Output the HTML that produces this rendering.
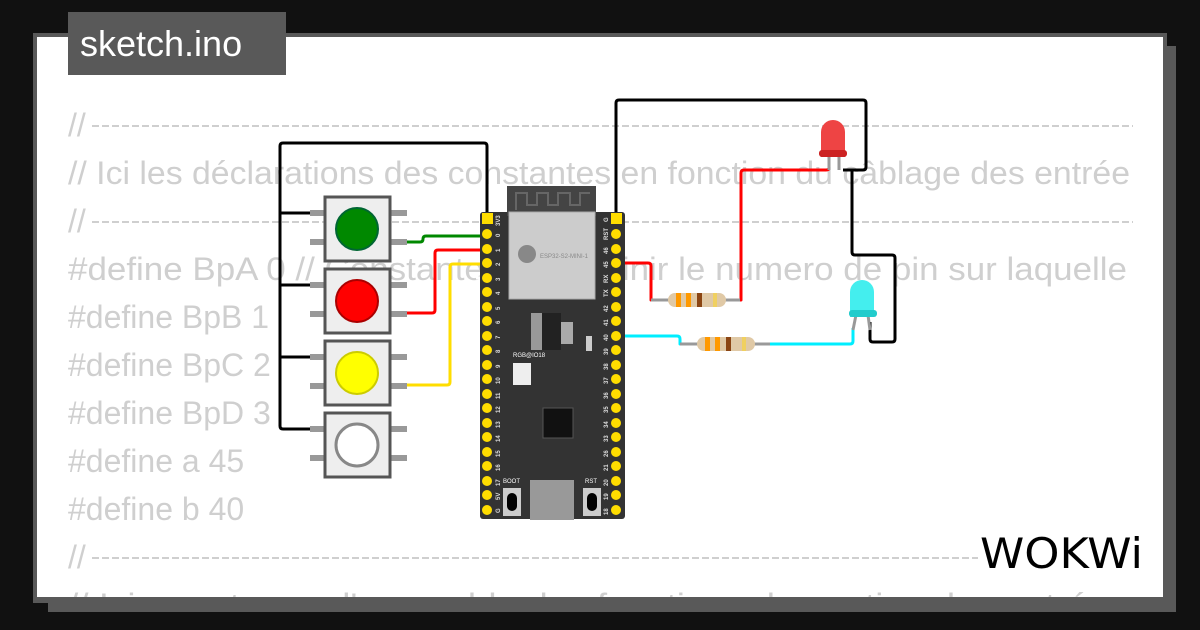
<!DOCTYPE html>
<html><head><meta charset="utf-8"><style>
html,body{margin:0;padding:0;background:#111;}
svg{display:block}
</style></head><body>
<svg width="1200" height="630" viewBox="0 0 1200 630" xmlns="http://www.w3.org/2000/svg" font-family="Liberation Sans, sans-serif">
<rect width="1200" height="630" fill="#111"/>
<rect x="48" y="46" width="1128" height="566" fill="#595959"/>
<rect x="33" y="33" width="1134" height="570" fill="#595959"/>
<rect x="37" y="37" width="1126" height="560" fill="#fff"/>
<clipPath id="c"><rect x="37" y="37" width="1126" height="560"/></clipPath>
<g clip-path="url(#c)" fill="#cfcfcf" font-size="32">
<text x="68" y="136">//</text><line x1="92" y1="126" x2="1133" y2="126" stroke="#cfcfcf" stroke-width="2" stroke-dasharray="7,3"/>
<text x="68" y="184" textLength="1062" lengthAdjust="spacingAndGlyphs">// Ici les déclarations des constantes en fonction du câblage des entrée</text>
<text x="68" y="232">//</text><line x1="92" y1="222" x2="1133" y2="222" stroke="#cfcfcf" stroke-width="2" stroke-dasharray="7,3"/>
<text x="68" y="280" textLength="1059" lengthAdjust="spacingAndGlyphs">#define BpA 0 // Constante pour définir le numero de pin sur laquelle</text>
<text x="68" y="328">#define BpB 1</text>
<text x="68" y="376">#define BpC 2</text>
<text x="68" y="424">#define BpD 3</text>
<text x="68" y="472">#define a 45</text>
<text x="68" y="520">#define b 40</text>
<text x="68" y="568">//</text><line x1="92" y1="558" x2="1133" y2="558" stroke="#cfcfcf" stroke-width="2" stroke-dasharray="7,3"/>
<text x="68" y="616" textLength="1059" lengthAdjust="spacingAndGlyphs">// Ici on retrouve l'ensemble des fonctions de gestion des entrées</text>
</g>
<rect x="68" y="12" width="218" height="63" fill="#595959"/>
<text x="80" y="56" font-size="36" fill="#fff">sketch.ino</text>

<g fill="none" stroke-width="3" stroke-linejoin="round">
<path d="M487 218 V146 Q487 143 484 143 H283 Q280 143 280 146 V426 Q280 429 283 429 H312 M280 213 H312 M280 285 H312 M280 357 H312" stroke="#000"/>
<path d="M407 242 H420 Q423 242 423 239 Q423 236 426 236 H487" stroke="#080"/>
<path d="M407 313 H432 Q435 313 435 310 V253 Q435 250 438 250 H487" stroke="#f00"/>
<path d="M407 385 H447 Q450 385 450 382 V267 Q450 264 453 264 H487" stroke="#fd0"/>
<path d="M476 278 H487" stroke="#fff"/>
<path d="M616 218 V103 Q616 100 619 100 H863 Q866 100 866 103 V167 Q866 170 863 170 H843" stroke="#000"/>
<path d="M829 168 Q829 170 826 170 H744 Q741 170 741 173 V300 H725" stroke="#f00"/>
<path d="M616 263 H648 Q651 263 651 266 V300 H668" stroke="#f00"/>
<path d="M852 170 V252 Q852 255 855 255 H892 Q895 255 895 258 V339 Q895 342 892 342 H873 Q870 342 870 339 V322" stroke="#000"/>
<path d="M616 336 H677 Q680 336 680 339 V344 H697 M755 344 H850 Q853 344 853 341 V328" stroke="#0ef"/>
</g>
<g>
<line x1="651" y1="300" x2="740" y2="300" stroke="#999" stroke-width="3"/>
<rect x="668" y="293" width="58" height="14" rx="7" fill="#e0c9a6"/>
<rect x="676" y="293" width="5" height="14" fill="#f90"/><rect x="686" y="293" width="5" height="14" fill="#f90"/><rect x="697" y="293" width="5" height="14" fill="#8b4513"/><rect x="713" y="293" width="4" height="14" fill="#f0d060"/>
<line x1="680" y1="344" x2="770" y2="344" stroke="#999" stroke-width="3"/>
<rect x="697" y="337" width="58" height="14" rx="7" fill="#e0c9a6"/>
<rect x="705" y="337" width="5" height="14" fill="#f90"/><rect x="715" y="337" width="5" height="14" fill="#f90"/><rect x="726" y="337" width="5" height="14" fill="#8b4513"/><rect x="742" y="337" width="4" height="14" fill="#f0d060"/>
</g>
<g>
<line x1="829" y1="155" x2="829" y2="170" stroke="#999" stroke-width="3"/>
<line x1="839" y1="155" x2="839" y2="170" stroke="#999" stroke-width="3"/>
<path d="M821 157 V132 A12 12 0 0 1 845 132 V157 Z" fill="#e44"/>
<rect x="819" y="150" width="28" height="7" rx="3" fill="#c22"/>
<line x1="856" y1="315" x2="853" y2="330" stroke="#999" stroke-width="3"/>
<line x1="868" y1="315" x2="870" y2="330" stroke="#999" stroke-width="3"/>
<path d="M850 317 V292 A12 12 0 0 1 874 292 V317 Z" fill="#4ee"/>
<rect x="849" y="310" width="28" height="7" rx="3" fill="#2cc"/>
</g>
<g>
<g>
<rect x="310" y="210" width="15" height="6" fill="#999"/><rect x="310" y="239" width="15" height="6" fill="#999"/><rect x="391" y="210" width="16" height="6" fill="#999"/><rect x="391" y="239" width="16" height="6" fill="#999"/>
<rect x="325" y="197" width="65" height="64" fill="#eee" stroke="#555" stroke-width="3"/>
<circle cx="357" cy="229" r="21" fill="#080" stroke="#063" stroke-width="2"/>
</g>
<g transform="translate(0,72)">
<rect x="310" y="210" width="15" height="6" fill="#999"/><rect x="310" y="239" width="15" height="6" fill="#999"/><rect x="391" y="210" width="16" height="6" fill="#999"/><rect x="391" y="239" width="16" height="6" fill="#999"/>
<rect x="325" y="197" width="65" height="64" fill="#eee" stroke="#555" stroke-width="3"/>
<circle cx="357" cy="229" r="21" fill="#f00" stroke="#a00" stroke-width="2"/>
</g>
<g transform="translate(0,144)">
<rect x="310" y="210" width="15" height="6" fill="#999"/><rect x="310" y="239" width="15" height="6" fill="#999"/><rect x="391" y="210" width="16" height="6" fill="#999"/><rect x="391" y="239" width="16" height="6" fill="#999"/>
<rect x="325" y="197" width="65" height="64" fill="#eee" stroke="#555" stroke-width="3"/>
<circle cx="357" cy="229" r="21" fill="#ff0" stroke="#cc0" stroke-width="2"/>
</g>
<g transform="translate(0,216)">
<rect x="310" y="210" width="15" height="6" fill="#999"/><rect x="310" y="239" width="15" height="6" fill="#999"/><rect x="391" y="210" width="16" height="6" fill="#999"/><rect x="391" y="239" width="16" height="6" fill="#999"/>
<rect x="325" y="197" width="65" height="64" fill="#eee" stroke="#555" stroke-width="3"/>
<circle cx="357" cy="229" r="21" fill="#fff" stroke="#888" stroke-width="3"/>
</g>
</g>
<rect x="480" y="212" width="145" height="307" rx="3" fill="#333"/>
<rect x="507" y="186" width="89" height="30" fill="#444"/>
<path d="M516 210 V193 H527 V205 H537 V193 H548 V205 H558 V193 H570 V205 H580 V193 H590" fill="none" stroke="#666" stroke-width="2"/>
<rect x="509" y="212" width="86" height="87" fill="#ccc" stroke="#aaa"/>
<circle cx="527" cy="254" r="9" fill="#888"/>
<text x="540" y="258" font-size="6" fill="#888">ESP32-S2-MINI-1</text>
<rect x="531" y="313" width="30" height="37" fill="#222"/>
<rect x="531" y="313" width="11" height="37" fill="#999"/>
<rect x="561" y="322" width="12" height="22" fill="#aaa"/>
<rect x="586" y="336" width="6" height="15" fill="#ccc"/>
<text x="513" y="357" font-size="6" fill="#fff">RGB@IO18</text>
<rect x="513" y="363" width="18" height="22" fill="#eee"/>
<rect x="543" y="408" width="30" height="30" fill="#111" stroke="#555"/>
<rect x="530" y="480" width="44" height="40" fill="#999"/>
<rect x="503" y="488" width="18" height="28" fill="#ccc"/><rect x="507" y="493" width="10" height="18" rx="5" fill="#000"/>
<rect x="583" y="488" width="18" height="28" fill="#ccc"/><rect x="587" y="493" width="10" height="18" rx="5" fill="#000"/>
<text x="503" y="483" font-size="6" fill="#fff">BOOT</text><text x="585" y="483" font-size="6" fill="#fff">RST</text>
<g fill="#fd0">
<rect x="482" y="213" width="11" height="11"/><rect x="611" y="213" width="11" height="11"/>
</g>
<g fill="#fd0">
<circle cx="487" cy="234" r="5"/><circle cx="487" cy="249" r="5"/><circle cx="487" cy="263" r="5"/><circle cx="487" cy="278" r="5"/><circle cx="487" cy="292" r="5"/><circle cx="487" cy="307" r="5"/><circle cx="487" cy="321" r="5"/><circle cx="487" cy="336" r="5"/><circle cx="487" cy="350" r="5"/><circle cx="487" cy="365" r="5"/><circle cx="487" cy="379" r="5"/><circle cx="487" cy="394" r="5"/><circle cx="487" cy="408" r="5"/><circle cx="487" cy="423" r="5"/><circle cx="487" cy="437" r="5"/><circle cx="487" cy="452" r="5"/><circle cx="487" cy="466" r="5"/><circle cx="487" cy="481" r="5"/><circle cx="487" cy="495" r="5"/><circle cx="487" cy="510" r="5"/>
<circle cx="616" cy="234" r="5"/><circle cx="616" cy="249" r="5"/><circle cx="616" cy="263" r="5"/><circle cx="616" cy="278" r="5"/><circle cx="616" cy="292" r="5"/><circle cx="616" cy="307" r="5"/><circle cx="616" cy="321" r="5"/><circle cx="616" cy="336" r="5"/><circle cx="616" cy="350" r="5"/><circle cx="616" cy="365" r="5"/><circle cx="616" cy="379" r="5"/><circle cx="616" cy="394" r="5"/><circle cx="616" cy="408" r="5"/><circle cx="616" cy="423" r="5"/><circle cx="616" cy="437" r="5"/><circle cx="616" cy="452" r="5"/><circle cx="616" cy="466" r="5"/><circle cx="616" cy="481" r="5"/><circle cx="616" cy="495" r="5"/><circle cx="616" cy="510" r="5"/>
</g>
<g fill="#ddd" font-size="6" font-weight="bold">
<text transform="translate(500,226) rotate(-90)">3V3</text>
<text transform="translate(500,237) rotate(-90)">0</text><text transform="translate(500,252) rotate(-90)">1</text><text transform="translate(500,266) rotate(-90)">2</text><text transform="translate(500,281) rotate(-90)">3</text><text transform="translate(500,295) rotate(-90)">4</text><text transform="translate(500,310) rotate(-90)">5</text><text transform="translate(500,324) rotate(-90)">6</text><text transform="translate(500,339) rotate(-90)">7</text><text transform="translate(500,353) rotate(-90)">8</text><text transform="translate(500,368) rotate(-90)">9</text><text transform="translate(500,384) rotate(-90)">10</text><text transform="translate(500,399) rotate(-90)">11</text><text transform="translate(500,413) rotate(-90)">12</text><text transform="translate(500,428) rotate(-90)">13</text><text transform="translate(500,442) rotate(-90)">14</text><text transform="translate(500,457) rotate(-90)">15</text><text transform="translate(500,471) rotate(-90)">16</text><text transform="translate(500,486) rotate(-90)">17</text><text transform="translate(500,500) rotate(-90)">5V</text><text transform="translate(500,513) rotate(-90)">G</text>
<text transform="translate(608,222) rotate(-90)">G</text><text transform="translate(608,240) rotate(-90)">RST</text><text transform="translate(608,254) rotate(-90)">46</text><text transform="translate(608,268) rotate(-90)">45</text><text transform="translate(608,283) rotate(-90)">RX</text><text transform="translate(608,297) rotate(-90)">TX</text><text transform="translate(608,312) rotate(-90)">42</text><text transform="translate(608,326) rotate(-90)">41</text><text transform="translate(608,341) rotate(-90)">40</text><text transform="translate(608,355) rotate(-90)">39</text><text transform="translate(608,370) rotate(-90)">38</text><text transform="translate(608,384) rotate(-90)">37</text><text transform="translate(608,399) rotate(-90)">36</text><text transform="translate(608,413) rotate(-90)">35</text><text transform="translate(608,428) rotate(-90)">34</text><text transform="translate(608,442) rotate(-90)">33</text><text transform="translate(608,457) rotate(-90)">26</text><text transform="translate(608,471) rotate(-90)">21</text><text transform="translate(608,486) rotate(-90)">20</text><text transform="translate(608,500) rotate(-90)">19</text><text transform="translate(608,515) rotate(-90)">18</text>
</g>
<rect x="978" y="530" width="170" height="42" fill="#fff"/>
<text x="980" y="568" font-size="42" fill="#000" font-family="DejaVu Sans, sans-serif" textLength="163" lengthAdjust="spacingAndGlyphs">WOKWi</text>
</svg>
</body></html>
